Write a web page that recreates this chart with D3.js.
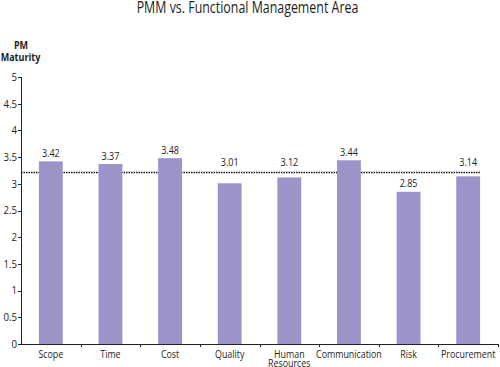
<!DOCTYPE html>
<html>
<head>
<meta charset="utf-8">
<script src="https://cdn.jsdelivr.net/npm/d3@7"></script>
<style>
  html, body { margin: 0; padding: 0; background: #fff; }
  svg { display: block; }
  text { font-family: "Open Sans", "Noto Sans", sans-serif; }
</style>
</head>
<body>
<script>
const categories = ["Scope", "Time", "Cost", "Quality", "Human\nResources", "Communication", "Risk", "Procurement"];
const values = [3.42, 3.37, 3.48, 3.01, 3.12, 3.44, 2.85, 3.14];
const yTicks = [0, 0.5, 1, 1.5, 2, 2.5, 3, 3.5, 4, 4.5, 5];
const average = 3.23;
const title = "PMM vs. Functional Management Area";
const yTitle = ["PM", "Maturity"];

const W = 500, H = 367;
const margin = { left: 21, right: 2, top: 77, bottom: 23 };
const svg = d3.select("body").append("svg").attr("width", W).attr("height", H);

// horizontally condense text (the reference uses a condensed face)
function condense(sel, k) {
  sel.each(function() {
    const len = this.getComputedTextLength();
    d3.select(this).attr("textLength", len * k).attr("lengthAdjust", "spacingAndGlyphs");
  });
}

const x = d3.scaleBand().domain(categories).range([margin.left, W - margin.right])
  .paddingInner(0.6).paddingOuter(0.3);
const y = d3.scaleLinear().domain([0, 5]).range([H - margin.bottom, margin.top]);
const step = x.step();

// title
svg.append("text").attr("x", 247.5).attr("y", 13).attr("text-anchor", "middle")
  .attr("font-size", 15.5).attr("fill", "#1e1e1e").text(title).call(condense, 0.8);

// y title
svg.append("text").attr("x", 21).attr("y", 48.5).attr("text-anchor", "middle")
  .attr("font-size", 10).attr("font-weight", "bold").attr("fill", "#1e1e1e").text(yTitle[0]).call(condense, 0.9);
svg.append("text").attr("x", 20.5).attr("y", 60.7).attr("text-anchor", "middle")
  .attr("font-size", 10).attr("font-weight", "bold").attr("fill", "#1e1e1e").text(yTitle[1]).call(condense, 0.9);

// average dotted line (under bars)
const lineY = y(average);
svg.append("line")
  .attr("x1", margin.left).attr("x2", x(categories[categories.length - 1]) + x.bandwidth())
  .attr("y1", Math.round(lineY) + 0.5).attr("y2", Math.round(lineY) + 0.5)
  .attr("stroke", "#111").attr("stroke-width", 1.6).attr("stroke-dasharray", "1.5,1");

// bars
svg.append("g").selectAll("rect").data(values).join("rect")
  .attr("x", (d, i) => x(categories[i]))
  .attr("y", d => y(d))
  .attr("width", x.bandwidth())
  .attr("height", d => y(0) - y(d))
  .attr("fill", "#9a94c8");

// value labels
svg.append("g").selectAll("text").data(values).join("text")
  .attr("x", (d, i) => x(categories[i]) + x.bandwidth() / 2)
  .attr("y", d => {
    let b = y(d) - 4.5;
    if (b > lineY - 3 && b - 8 < lineY + 2) b = lineY - 5.5;
    return b;
  })
  .attr("text-anchor", "middle").attr("font-size", 11).attr("fill", "#1e1e1e")
  .text(d => d.toFixed(2)).call(condense, 0.82);

// y axis
const yAxis = svg.append("g");
yAxis.append("line").attr("x1", margin.left + 0.5).attr("x2", margin.left + 0.5)
  .attr("y1", y(5)).attr("y2", y(0)).attr("stroke", "#222");
yAxis.selectAll("line.t").data(yTicks).join("line").attr("class", "t")
  .attr("x1", margin.left - 3).attr("x2", margin.left)
  .attr("y1", d => Math.round(y(d)) + 0.5).attr("y2", d => Math.round(y(d)) + 0.5)
  .attr("stroke", "#222");
yAxis.selectAll("text").data(yTicks).join("text")
  .attr("x", margin.left - 4).attr("y", d => y(d) + 3.8)
  .attr("text-anchor", "end").attr("font-size", 10.5).attr("fill", "#1e1e1e")
  .text(d => d3.format("~g")(d)).call(condense, 0.92);

// x axis
const xAxis = svg.append("g");
xAxis.append("line").attr("x1", margin.left).attr("x2", W - margin.right)
  .attr("y1", y(0) + 0.5).attr("y2", y(0) + 0.5).attr("stroke", "#222");
xAxis.selectAll("line.t").data(categories).join("line").attr("class", "t")
  .attr("x1", d => Math.round(x(d) - step * 0.3 + step) + 0.5)
  .attr("x2", d => Math.round(x(d) - step * 0.3 + step) + 0.5)
  .attr("y1", y(0)).attr("y2", y(0) + 3).attr("stroke", "#222");
const labelLines = [];
categories.forEach(c => c.split("\n").forEach((p, i) => labelLines.push({ c, p, i })));
xAxis.selectAll("text").data(labelLines).join("text")
  .attr("x", d => x(d.c) + x.bandwidth() / 2)
  .attr("y", d => y(0) + 14 + d.i * 9)
  .attr("text-anchor", "middle").attr("font-size", 11.5).attr("fill", "#1e1e1e")
  .text(d => d.p).call(condense, 0.77);
</script>
</body>
</html>
